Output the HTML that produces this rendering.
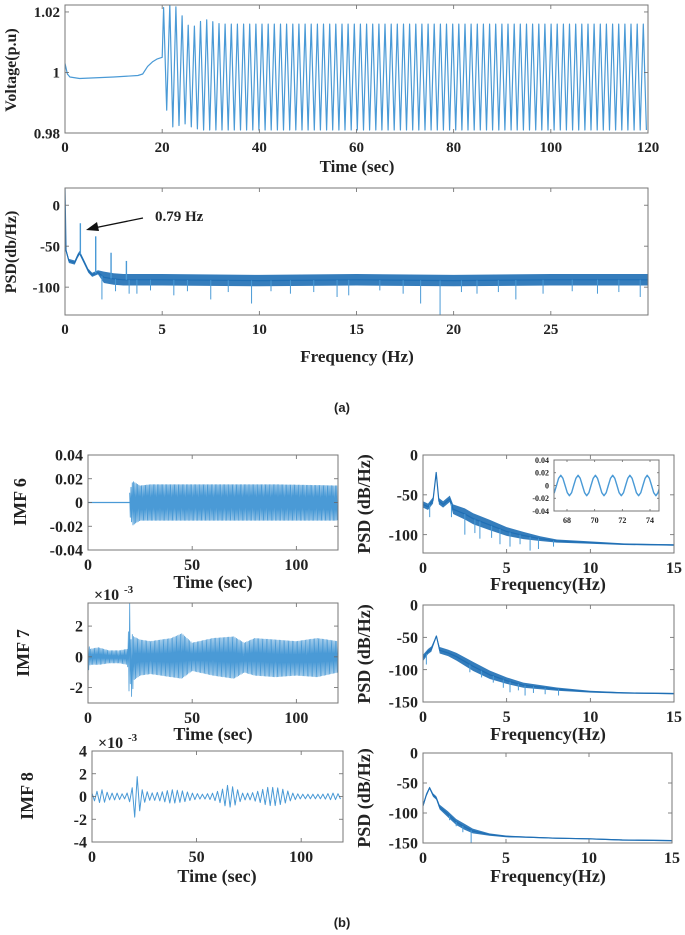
<!DOCTYPE html>
<html><head><meta charset="utf-8">
<style>
html,body{margin:0;padding:0;background:#fff;}
svg{display:block;}
text{font-family:"Liberation Serif",serif;font-weight:bold;fill:#222;}
.cap{font-family:"Liberation Sans",sans-serif;font-weight:bold;}
</style></head>
<body>
<svg id="fig" width="685" height="935" viewBox="0 0 685 935" xmlns="http://www.w3.org/2000/svg"></svg>
<script>
// ---------- data ----------
const voltPreT = [0, 0.5, 1, 3, 10, 15, 16, 17, 18, 19, 20];
const voltPreV = [1.003, 0.9995, 0.9985, 0.998, 0.9985, 0.999, 0.9995, 1.002, 1.0035, 1.0045, 1.005];
const voltEnvT = [20, 21, 22, 23, 24, 25, 26, 27, 28, 29, 30, 32, 40, 60, 80, 100, 120];
const voltUpper = [1.021, 1.0225, 1.0225, 1.0215, 1.019, 1.016, 1.015, 1.0155, 1.017, 1.0175, 1.017, 1.016, 1.016, 1.016, 1.016, 1.016, 1.016];
const voltLower = [0.995, 0.987, 0.982, 0.982, 0.983, 0.983, 0.982, 0.9815, 0.981, 0.981, 0.981, 0.981, 0.981, 0.981, 0.981, 0.981, 0.981];
const oscFreqHz = 0.79;
const psdAF = [0, 0.05, 0.2, 0.5, 0.65, 0.75, 1.0, 1.2, 1.4, 1.7, 2.0, 2.5, 3, 5, 10, 15, 20, 25, 30];
const psdAV = [20, -55, -68, -70, -62, -58, -70, -80, -85, -82, -88, -90, -91, -91, -92, -91, -92, -91, -91];
const psdAPeaksF = [0.79, 1.58, 2.37, 3.16];
const psdAPeaksV = [-22, -38, -58, -68];
const psdADipsF = [1.9, 2.6, 3.3, 3.7, 4.4, 5.6, 6.3, 7.5, 8.4, 9.6, 10.6, 11.6, 12.8, 14.0, 14.6, 16.2, 17.4, 18.3, 19.3, 20.4, 21.2, 22.3, 23.2, 24.6, 26.1, 27.4, 28.5, 29.6];
const psdADipsV = [-115, -105, -108, -108, -104, -110, -105, -115, -106, -120, -105, -108, -106, -112, -110, -104, -108, -120, -135, -106, -108, -106, -115, -108, -105, -108, -106, -112];
const imf6T = [0, 19, 20.5, 21.5, 23, 25, 30, 60, 90, 120];
const imf6Up = [0.0005, 0.0005, 0.012, 0.018, 0.016, 0.014, 0.015, 0.015, 0.015, 0.014];
const imf6Lo = [-0.0005, -0.0005, -0.014, -0.019, -0.017, -0.015, -0.015, -0.015, -0.015, -0.015];
const psd6F = [0, 0.3, 0.6, 0.79, 0.95, 1.2, 1.6, 1.8, 2.5, 3, 4, 5, 6, 7, 8, 10, 12, 15];
const psd6V = [-62, -65, -57, -22, -58, -62, -55, -68, -74, -80, -88, -96, -101, -105, -108, -110, -112, -113];
const psd6Band = [8, 8, 8, 2, 8, 8, 8, 12, 14, 14, 13, 11, 9, 6, 4, 3, 2, 2];
const insetPeaks = [67.55, 68.8, 70.05, 71.3, 72.55, 73.8, 75.05];
const insetAmp = 0.016;
const imf7T = [0, 1, 5, 10, 15, 19, 20, 20.5, 21, 22, 25, 30, 40, 45, 50, 60, 70, 75, 80, 90, 100, 110, 120];
const imf7Up = [0.9, 0.5, 0.6, 0.4, 0.4, 0.5, 3.5, 1.0, 1.5, 1.3, 1.1, 1.0, 1.2, 1.5, 0.9, 1.2, 1.3, 0.9, 1.2, 1.1, 1.0, 1.2, 1.0];
const imf7Lo = [-1.0, -0.5, -0.5, -0.4, -0.4, -0.5, -3.0, -1.0, -2.8, -1.5, -1.2, -1.1, -1.3, -1.4, -0.9, -1.2, -1.4, -1.0, -1.2, -1.3, -1.2, -1.3, -1.0];
const psd7F = [0, 0.3, 0.5, 0.8, 1.0, 1.5, 2, 3, 4, 5, 6, 8, 10, 12, 15];
const psd7V = [-82, -72, -68, -48, -70, -74, -80, -95, -108, -117, -124, -130, -134, -136, -137];
const psd7Band = [10, 8, 8, 2, 10, 10, 12, 14, 13, 10, 8, 5, 3, 2, 2];
const imf8T = [0, 3, 5, 8, 12, 16, 19, 20.5, 22, 24, 28, 33, 38, 43, 48, 53, 58, 62, 65, 68, 72, 76, 80, 84, 88, 92, 96, 100, 105, 110, 115, 120];
const imf8A = [0.3, 0.5, 0.6, 0.3, 0.3, 0.2, 0.6, 1.9, 1.7, 0.6, 0.3, 0.4, 0.6, 0.5, 0.3, 0.2, 0.3, 0.6, 1.0, 0.8, 0.3, 0.3, 0.5, 0.8, 0.8, 0.6, 0.3, 0.2, 0.2, 0.2, 0.3, 0.2];
const imf8Period = 2.4;
const psd8F = [0, 0.2, 0.4, 0.6, 0.8, 1.0, 1.5, 2, 2.5, 3, 4, 5, 6, 8, 10, 12, 15];
const psd8V = [-88, -70, -58, -70, -75, -90, -102, -115, -123, -130, -136, -139, -140, -142, -143, -145, -146];
const psd8Band = [6, 6, 4, 6, 6, 8, 10, 10, 10, 8, 4, 3, 2, 2, 2, 2, 2];

// ---------- helpers ----------
const NS = "http://www.w3.org/2000/svg";
const fig = document.getElementById('fig');
const C1 = "#1f6fb5", C2 = "#4a9ad6";
function mk(tag, attrs, parent) {
  const e = document.createElementNS(NS, tag);
  for (const k in attrs) e.setAttribute(k, attrs[k]);
  (parent || fig).appendChild(e);
  return e;
}
function txt(s, x, y, size, anchor, parent, cls) {
  const t = mk('text', {x: x, y: y, 'font-size': size, 'text-anchor': anchor || 'middle'}, parent);
  if (cls) t.setAttribute('class', cls);
  t.textContent = s;
  return t;
}
function interp(xs, ys, x) {
  if (x <= xs[0]) return ys[0];
  for (let i = 1; i < xs.length; i++) if (x <= xs[i]) {
    const f = (x - xs[i-1]) / (xs[i] - xs[i-1]);
    return ys[i-1] + f * (ys[i] - ys[i-1]);
  }
  return ys[ys.length-1];
}
function axes(o) {
  const g = mk('g', {});
  
  
  const sx = v => o.L + (v - o.xmin) / (o.xmax - o.xmin) * (o.R - o.L);
  const sy = v => o.B - (v - o.ymin) / (o.ymax - o.ymin) * (o.B - o.T);
  const cp = 'clip-' + o.name;
  const cl = mk('clipPath', {id: cp}, g);
  mk('rect', {x: o.L, y: o.T, width: o.R - o.L, height: o.B - o.T}, cl);
  const plot = mk('g', {'clip-path': 'url(#' + cp + ')'}, g);
  
  
  const tl = o.tl || 4;
  o.xticks.forEach((v, i) => {
    const x = sx(v);
    mk('line', {x1: x, y1: o.B, x2: x, y2: o.B - tl, stroke: '#666', 'stroke-width': 0.8}, g);
    mk('line', {x1: x, y1: o.T, x2: x, y2: o.T + tl, stroke: '#666', 'stroke-width': 0.8}, g);
    const t = txt(o.xlabels[i], x, o.B + o.fs + 4, o.fs, 'middle', g);
    
    
  });
  o.yticks.forEach((v, i) => {
    const y = sy(v);
    mk('line', {x1: o.L, y1: y, x2: o.L + tl, y2: y, stroke: '#666', 'stroke-width': 0.8}, g);
    mk('line', {x1: o.R, y1: y, x2: o.R - tl, y2: y, stroke: '#666', 'stroke-width': 0.8}, g);
    const t = txt(o.ylabels[i], o.L - 5, y + o.fs * 0.35, o.fs, 'end', g);
    
    
  });
  mk('rect', {x: o.L, y: o.T, width: o.R - o.L, height: o.B - o.T, fill: 'none', stroke: '#777', 'stroke-width': 1}, g);
  return {sx, sy, plot, g};
}
function ylab(s, x, y, size, name) {
  const t = txt(s, x, y, size, 'middle');
  t.setAttribute('transform', 'rotate(-90 ' + x + ' ' + y + ')');
  
  
}
function xlab(s, x, y, size, name) {
  const t = txt(s, x, y, size, 'middle');
  
  
}
function polyline(pts, parent, color, w, name) {
  const p = mk('polyline', {points: pts.map(q => q[0].toFixed(1) + ',' + q[1].toFixed(1)).join(' '), fill: 'none', stroke: color, 'stroke-width': w, 'stroke-linejoin': 'round'}, parent);
  
  
  return p;
}
function oscPoints(ax, t0, t1, freq, up, lo, T) {
  const pts = [];
  const half = 0.5 / freq;
  let k = 0;
  for (let t = t0; t <= t1; t += half, k++) {
    const v = (k % 2 === 0) ? interp(T, up, t) : interp(T, lo, t);
    pts.push([ax.sx(t), ax.sy(v)]);
  }
  return pts;
}
function psdDraw(ax, F, V, band, peaksF, peaksV, dipsF, dipsV, name) {
  const up = [], lo = [];
  for (let i = 0; i < F.length; i++) {
    up.push([ax.sx(F[i]), ax.sy(V[i] + band[i] / 2)]);
    lo.unshift([ax.sx(F[i]), ax.sy(V[i] - band[i] / 2)]);
  }
  const poly = mk('polygon', {points: up.concat(lo).map(q => q[0].toFixed(1) + ',' + q[1].toFixed(1)).join(' '), fill: C1, opacity: 0.9}, ax.plot);
  
  
  polyline(F.map((f, i) => [ax.sx(f), ax.sy(V[i])]), ax.plot, C1, 1.2, name + '-trend');
  (peaksF || []).forEach((f, i) => {
    const b = interp(F, V, f);
    const l = mk('line', {x1: ax.sx(f), y1: ax.sy(b), x2: ax.sx(f), y2: ax.sy(peaksV[i]), stroke: C2, 'stroke-width': 1.4}, ax.plot);
    
    
  });
  (dipsF || []).forEach((f, i) => {
    const b = interp(F, V, f);
    const l = mk('line', {x1: ax.sx(f), y1: ax.sy(b), x2: ax.sx(f), y2: ax.sy(dipsV[i]), stroke: C2, 'stroke-width': 1}, ax.plot);
    
    
  });
}

// ---------- (a) voltage ----------
const a1 = axes({name: 'voltage-chart', L: 65, R: 648, T: 5, B: 133, xmin: 0, xmax: 120, ymin: 0.98, ymax: 1.0223,
  xticks: [0, 20, 40, 60, 80, 100, 120], xlabels: ['0','20','40','60','80','100','120'],
  yticks: [0.98, 1, 1.02], ylabels: ['0.98','1','1.02'], fs: 15});
let vpts = voltPreT.map((t, i) => [a1.sx(t), a1.sy(voltPreV[i])]);
vpts = vpts.concat(oscPoints(a1, 20.3, 120, oscFreqHz, voltUpper, voltLower, voltEnvT));
polyline(vpts, a1.plot, C2, 1.2, 'voltage-line');
ylab('Voltage(p.u)', 16, 70, 16, 'voltage-y-axis-title');
xlab('Time (sec)', 357, 172, 17, 'time-x-axis-title');

// ---------- (a) PSD ----------
const a2 = axes({name: 'psd-chart', L: 65, R: 648, T: 188, B: 315, xmin: 0, xmax: 30, ymin: -134, ymax: 21,
  xticks: [0, 5, 10, 15, 20, 25], xlabels: ['0','5','10','15','20','25'],
  yticks: [-100, -50, 0], ylabels: ['-100','-50','0'], fs: 15});
psdDraw(a2, psdAF, psdAV, psdAF.map(f => f < 1.8 ? 5 : 14), psdAPeaksF, psdAPeaksV, psdADipsF, psdADipsV, 'psd-a');
ylab('PSD(db/Hz)', 16, 252, 16, 'psd-y-axis-title');
xlab('Frequency (Hz)', 357, 362, 17, 'frequency-x-axis-title');
const ann = txt('0.79 Hz', 155, 221, 15, 'start');


mk('line', {x1: 143, y1: 218, x2: 94, y2: 228, stroke: '#111', 'stroke-width': 1.3});
const arr = mk('polygon', {points: '86,230 97,222 99,231', fill: '#111'});


const capA = txt('(a)', 342, 412, 13, 'middle', null, 'cap');



// ---------- (b) IMF6 ----------
const b1 = axes({name: 'imf6-chart', L: 88, R: 338, T: 455, B: 550, xmin: 0, xmax: 120, ymin: -0.04, ymax: 0.04,
  xticks: [0, 50, 100], xlabels: ['0','50','100'],
  yticks: [-0.04, -0.02, 0, 0.02, 0.04], ylabels: ['-0.04','-0.02','0','0.02','0.04'], fs: 16});
polyline([[b1.sx(0), b1.sy(0)], [b1.sx(20), b1.sy(0)]], b1.plot, C2, 1.2, 'imf6-pre');
polyline(oscPoints(b1, 20, 120, 0.79 * 2, imf6Up, imf6Lo, imf6T), b1.plot, C2, 0.9, 'imf6-line');
ylab('IMF 6', 26, 502, 18, 'imf6-y-axis-title');
xlab('Time (sec)', 213, 588, 18, 'imf6-x-axis-title');

const b2 = axes({name: 'psd6-chart', L: 423, R: 674, T: 455, B: 553, xmin: 0, xmax: 15, ymin: -123, ymax: 0,
  xticks: [0, 5, 10, 15], xlabels: ['0','5','10','15'],
  yticks: [-100, -50, 0], ylabels: ['-100','-50','0'], fs: 16});
psdDraw(b2, psd6F, psd6V, psd6Band, [], [], [0.4, 1.7, 2.5, 3.1, 3.4, 4.1, 4.6, 5.2, 5.8, 6.4, 6.9, 7.8], [-78, -78, -100, -98, -105, -104, -112, -115, -112, -120, -118, -115], 'psd6');
ylab('PSD (dB/Hz)', 370, 504, 18, 'psd6-y-axis-title');
xlab('Frequency(Hz)', 548, 590, 18, 'psd6-x-axis-title');
const ins = axes({name: 'imf6-inset', L: 554, R: 659, T: 460, B: 511, xmin: 67.06, xmax: 74.65, ymin: -0.04, ymax: 0.04,
  xticks: [68, 70, 72, 74], xlabels: ['68','70','72','74'],
  yticks: [-0.04, -0.02, 0, 0.02, 0.04], ylabels: ['-0.04','-0.02','0','0.02','0.04'], fs: 8, tl: 2});
const insPts = [];
for (let i = 0; i < insetPeaks.length; i++) {
  const p = insetPeaks[i];
  for (let s = 0; s < 8; s++) {
    const t = p - 0.625 + s * 0.15625;
    insPts.push([ins.sx(t), ins.sy(insetAmp * Math.cos((t - p) / 1.25 * 2 * Math.PI))]);
  }
}
polyline(insPts, ins.plot, C2, 1.4, 'inset-line');

// ---------- (b) IMF7 ----------
const b3 = axes({name: 'imf7-chart', L: 88, R: 338, T: 603, B: 703, xmin: 0, xmax: 120, ymin: -3, ymax: 3.5,
  xticks: [0, 50, 100], xlabels: ['0','50','100'],
  yticks: [-2, 0, 2], ylabels: ['-2','0','2'], fs: 16});
polyline(oscPoints(b3, 0, 120, 1.6, imf7Up, imf7Lo, imf7T), b3.plot, C2, 0.8, 'imf7-line');
const m7 = txt('×10', 94, 600, 16, 'start'); txt('-3', 124, 593, 11, 'start');


ylab('IMF 7', 29, 653, 18, 'imf7-y-axis-title');
xlab('Time (sec)', 213, 740, 18, 'imf7-x-axis-title');

const b4 = axes({name: 'psd7-chart', L: 423, R: 674, T: 605, B: 702, xmin: 0, xmax: 15, ymin: -150, ymax: 0,
  xticks: [0, 5, 10, 15], xlabels: ['0','5','10','15'],
  yticks: [-150, -100, -50, 0], ylabels: ['-150','-100','-50','0'], fs: 16});
psdDraw(b4, psd7F, psd7V, psd7Band, [], [], [0.2, 2.8, 3.5, 4.2, 4.8, 5.2, 5.7, 6.1, 6.6, 7.3, 8.1], [-92, -104, -112, -120, -128, -135, -132, -140, -136, -138, -140], 'psd7');
ylab('PSD (dB/Hz)', 370, 654, 18, 'psd7-y-axis-title');
xlab('Frequency(Hz)', 548, 740, 18, 'psd7-x-axis-title');

// ---------- (b) IMF8 ----------
const b5 = axes({name: 'imf8-chart', L: 92, R: 343, T: 751, B: 842, xmin: 0, xmax: 120, ymin: -4, ymax: 4,
  xticks: [0, 50, 100], xlabels: ['0','50','100'],
  yticks: [-4, -2, 0, 2, 4], ylabels: ['-4','-2','0','2','4'], fs: 16});
polyline(oscPoints(b5, 0, 120, 1 / imf8Period, imf8A, imf8A.map(a => -a), imf8T), b5.plot, C2, 1, 'imf8-line');
const m8 = txt('×10', 98, 748, 16, 'start'); txt('-3', 128, 741, 11, 'start');


ylab('IMF 8', 33, 796, 18, 'imf8-y-axis-title');
xlab('Time (sec)', 217, 882, 18, 'imf8-x-axis-title');

const b6 = axes({name: 'psd8-chart', L: 423, R: 672, T: 753, B: 843, xmin: 0, xmax: 15, ymin: -150, ymax: 0,
  xticks: [0, 5, 10, 15], xlabels: ['0','5','10','15'],
  yticks: [-150, -100, -50, 0], ylabels: ['-150','-100','-50','0'], fs: 16});
psdDraw(b6, psd8F, psd8V, psd8Band, [], [], [1.6, 2.0, 2.4, 2.9], [-112, -122, -132, -150], 'psd8');
ylab('PSD (dB/Hz)', 370, 798, 18, 'psd8-y-axis-title');
xlab('Frequency(Hz)', 548, 882, 18, 'psd8-x-axis-title');

const capB = txt('(b)', 342, 927, 13, 'middle', null, 'cap');


</script>
</body></html>
